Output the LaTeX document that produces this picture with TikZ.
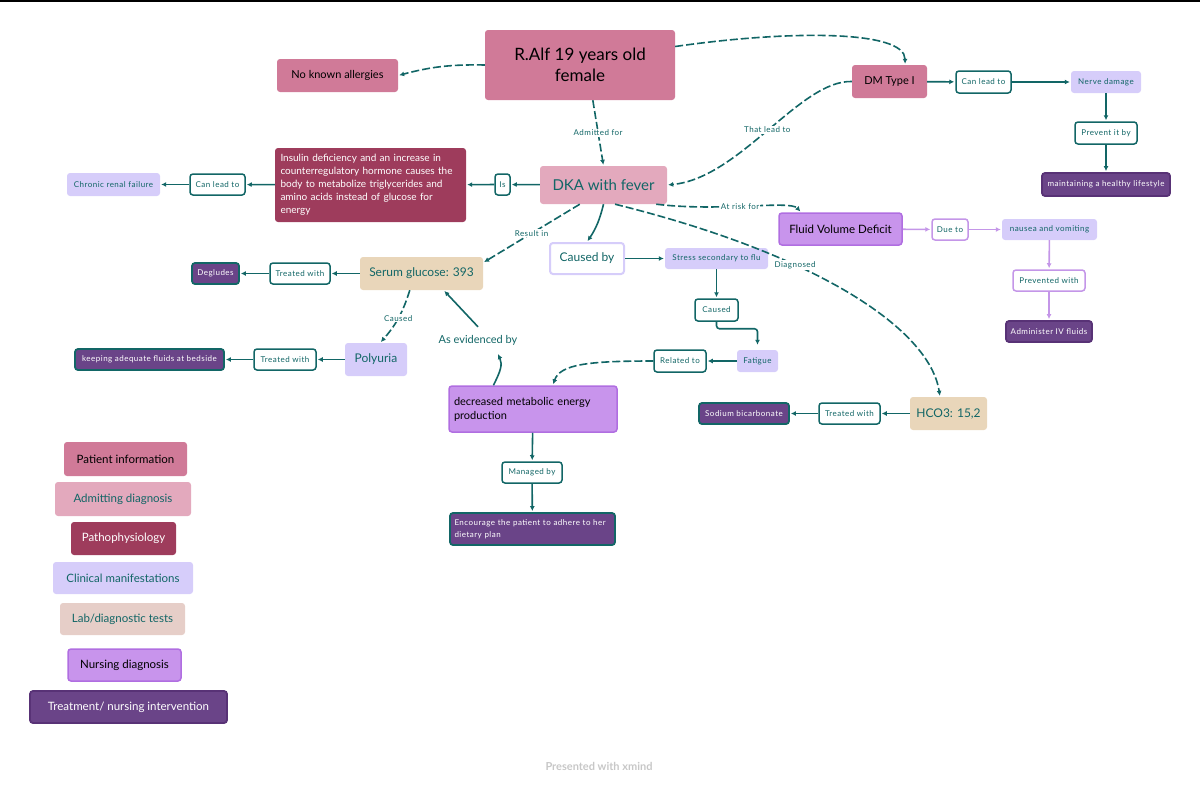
\documentclass[tikz,border=0pt]{standalone}
\usepackage{fontspec}
\setmainfont{Lato}
\newfontfamily\tinyf[LetterSpace=6]{Lato}
\usetikzlibrary{arrows.meta}

\definecolor{cteal}{RGB}{18,102,102}
\definecolor{cpat}{RGB}{208,122,152}
\definecolor{cadm}{RGB}{227,169,189}
\definecolor{cpatho}{RGB}{158,60,92}
\definecolor{cclin}{RGB}{214,205,250}
\definecolor{clab}{RGB}{233,214,186}
\definecolor{clegl}{RGB}{230,206,200}
\definecolor{cnur}{RGB}{200,148,236}
\definecolor{cnurd}{RGB}{176,110,225}
\definecolor{ctreat}{RGB}{106,68,136}
\definecolor{ctreatd}{RGB}{88,50,118}
\definecolor{clav}{RGB}{196,150,232}

\newcommand{\fsz}[2]{\fontsize{#1}{#2}\selectfont}
\newcommand{\smf}{\tinyf\fsz{8}{10}}

\begin{document}
\begin{tikzpicture}[x=1pt,y=-1pt,
    box/.style={rounded corners=3pt, inner sep=0pt, align=center},
    pat/.style={box, fill=cpat, text=black},
    adm/.style={box, fill=cadm, text=cteal},
    patho/.style={box, fill=cpatho, text=white},
    clin/.style={box, fill=cclin, text=cteal},
    lab/.style={box, fill=clab, text=cteal},
    nurs/.style={box, fill=cnur, draw=cnurd, line width=1.5pt, text=black},
    treat/.style={box, fill=ctreat, draw=cteal, line width=1.8pt, text=white, font=\smf},
    rel/.style={box, fill=white, draw=cteal, line width=1.5pt, text=cteal, font=\smf},
    relp/.style={rel, draw=clav},
    lbl/.style={fill=white, inner sep=1pt, text=cteal, font=\smf},
    conn/.style={draw=cteal, line width=1.6pt, -{Latex[length=5pt,width=5pt]}, shorten >=1pt},
    dconn/.style={conn, dash pattern=on 8pt off 3pt},
    pconn/.style={conn, draw=clav}]

\useasboundingbox (0,0) rectangle (1200,795);
\draw[line width=1.5pt] (0,0.75) -- (1200,0.75);

% patient and diagnosis
\node[pat, minimum width=190, minimum height=70, font=\fsz{17}{21}] (ralf) at (580,65) {R.Alf 19 years old\\female};
\node[pat, minimum width=121, minimum height=33, font=\fsz{11}{13}] (allergy) at (337.5,75.5) {No known allergies};
\node[pat, minimum width=75, minimum height=33, font=\fsz{11}{13}] (dm) at (889.5,81.5) {DM Type I};
\node[adm, minimum width=127, minimum height=38, font=\fsz{15}{18}] (dka) at (603.5,185) {DKA with fever};

% DM branch
\node[rel, minimum width=55, minimum height=22] (canlead1) at (983.5,82) {Can lead to};
\node[clin, minimum width=70, minimum height=22, font=\smf] (nerve) at (1106,82) {Nerve damage};
\node[rel, minimum width=62, minimum height=22] (prevby) at (1106,133) {Prevent it by};
\node[treat, draw=ctreatd, minimum width=128, minimum height=23] (lifestyle) at (1106,184.5) {maintaining a healthy lifestyle};

% pathophysiology
\node[rel, minimum width=15, minimum height=21] (is) at (502.5,184.5) {Is};
\node[patho, minimum width=191, minimum height=74, text width=180, align=left, font=\fsz{10}{13}] (insulin) at (370.5,185)
  {Insulin deficiency and an increase in\\counterregulatory hormone causes the\\body to metabolize triglycerides and\\amino acids instead of glucose for\\energy};
\node[rel, minimum width=55, minimum height=21] (canlead2) at (217.5,184.5) {Can lead to};
\node[clin, minimum width=93, minimum height=23, font=\smf] (renal) at (113.5,184.5) {Chronic renal failure};

% fluid volume deficit
\node[nurs, minimum width=123, minimum height=32, font=\fsz{11.5}{14}] (fvd) at (840.5,229) {Fluid Volume Deficit};
\node[relp, minimum width=36, minimum height=21] (dueto) at (950,229.5) {Due to};
\node[clin, minimum width=95, minimum height=21, font=\smf] (nausea) at (1049.5,229.5) {nausea and vomiting};
\node[relp, minimum width=72, minimum height=21] (prevwith) at (1049,280.5) {Prevented with};
\node[treat, draw=ctreatd, minimum width=86, minimum height=21] (ivfluids) at (1049,331.5) {Administer IV fluids};

% serum glucose
\node[lab, minimum width=123, minimum height=33, font=\fsz{12}{14}] (serum) at (421.5,273.5) {Serum glucose: 393};
\node[rel, minimum width=60, minimum height=21] (treat1) at (300,273.5) {Treated with};
\node[treat, minimum width=47, minimum height=21] (degludes) at (215.5,273.5) {Degludes};
\node[clin, minimum width=62, minimum height=33, font=\fsz{12}{14}] (poly) at (376,359.5) {Polyuria};
\node[rel, minimum width=62, minimum height=21] (treat2) at (285,359.5) {Treated with};
\node[treat, minimum width=149, minimum height=21] (keeping) at (149.5,359.5) {keeping adequate fluids at bedside};
\node[text=cteal, inner xsep=2pt, inner ysep=8pt, font=\fsz{11}{13}] (evid) at (478,340) {As evidenced by};

% caused by
\node[box, fill=white, draw=cclin, line width=2pt, text=cteal, minimum width=74, minimum height=31, font=\fsz{12}{14}] (causedby) at (587,258.5) {Caused by};
\node[clin, minimum width=103, minimum height=21, font=\smf] (stress) at (716.5,258.5) {Stress secondary to flu};
\node[rel, minimum width=43, minimum height=22] (caused2) at (716.5,310) {Caused};
\node[clin, minimum width=41, minimum height=22, font=\smf] (fatigue) at (757.5,361) {Fatigue};
\node[rel, minimum width=52, minimum height=22] (related) at (680,361) {Related to};
\node[nurs, minimum width=168, minimum height=46, text width=158, align=left, font=\fsz{11}{14}] (dec) at (533,409) {decreased metabolic energy\\production};
\node[rel, minimum width=60, minimum height=21] (managed) at (532,472.5) {Managed by};
\node[treat, minimum width=165, minimum height=32, text width=156, align=left, font=\smf\fsz{8}{12}] (encourage) at (532.5,529) {Encourage the patient to adhere to her\\dietary plan};

% HCO3
\node[lab, minimum width=77, minimum height=33, font=\fsz{12}{14}] (hco) at (948.5,413.5) {HCO3: 15,2};
\node[rel, minimum width=61, minimum height=21] (treat3) at (849.5,413.5) {Treated with};
\node[treat, minimum width=90, minimum height=21] (sodium) at (744,413.5) {Sodium bicarbonate};

% legend
\node[pat, minimum width=123, minimum height=34, font=\fsz{11.5}{13}] (lpat) at (125.5,459) {Patient information};
\node[adm, minimum width=136, minimum height=34, font=\fsz{11.5}{13}] (ladm) at (123,499) {Admitting diagnosis};
\node[patho, minimum width=105, minimum height=33, font=\fsz{11.5}{13}] (lpatho) at (123.5,538.5) {Pathophysiology};
\node[clin, minimum width=140, minimum height=32, font=\fsz{11.5}{13}] (lclin) at (123,578) {Clinical manifestations};
\node[box, fill=clegl, text=cteal, minimum width=125, minimum height=32, font=\fsz{11.5}{13}] (llab) at (122.5,619) {Lab/diagnostic tests};
\node[nurs, minimum width=113, minimum height=32, font=\fsz{11.5}{13}] (lnur) at (124.5,665) {Nursing diagnosis};
\node[treat, draw=ctreatd, minimum width=197, minimum height=32, font=\fsz{11.5}{13}] (ltreat) at (128.5,707) {Treatment/ nursing intervention};

\node[text=black!22, font=\bfseries\fsz{11}{13}] (footer) at (599,766) {Presented with xmind};

% connectors
\draw[dconn] (ralf.west) to[bend right=8] (allergy.east);
\draw[dconn] (ralf.11) .. controls (790,30) and (905,30) .. (dm.47);
\draw[dconn] (ralf.-70) -- node[lbl] {Admitted for} (dka.north);
\draw[dconn] (dm.west) .. controls (800,80) and (740,178) .. node[lbl, pos=0.5] {That lead to} (dka.east);
\draw[dconn] (dka.-20) .. controls (720,212) and (790,200) .. node[lbl, pos=0.45] {At risk for} (fvd.157);
\draw[dconn] (dka.-59) .. controls (820,255) and (930,330) .. node[lbl, pos=0.35] {Diagnosed} (hco.117);
\draw[dconn] (dka.-141) -- node[lbl] {Result in} (serum.10);
\draw[conn] (dka.south) to[bend left=10] (causedby.north);

\draw[conn] (dm) -- (canlead1);
\draw[conn] (canlead1) -- (nerve);
\draw[conn] (nerve) -- (prevby);
\draw[conn] (prevby) -- (lifestyle);

\draw[conn] (dka) -- (is);
\draw[conn] (is) -- (insulin);
\draw[conn] (insulin) -- (canlead2);
\draw[conn] (canlead2) -- (renal);

\draw[pconn] (fvd) -- (dueto);
\draw[pconn] (dueto) -- (nausea);
\draw[pconn] (nausea) -- (prevwith);
\draw[pconn] (prevwith) -- (ivfluids);

\draw[conn] (serum) -- (treat1);
\draw[conn] (treat1) -- (degludes);
\draw[dconn] (serum.-125) to[bend left=12] node[lbl] {Caused} (poly.76);
\draw[conn] (poly) -- (treat2);
\draw[conn] (treat2) -- (keeping);
\draw[conn] (evid.north) -- (serum.-37);

\draw[conn] (causedby) -- (stress);
\draw[conn] (stress) -- (caused2);
\draw[conn, rounded corners=3pt, shorten >=5pt] (caused2.south) -- ++(0,7) -| (fatigue.north);
\draw[conn] (fatigue) -- (related);
\draw[dconn] (related.west) .. controls (590,361) and (560,364) .. (dec.50);
\draw[conn] (dec.149) .. controls (500,372) and (503,365) .. (evid.-34);
\draw[conn] (dec) -- (managed);
\draw[conn] (managed) -- (encourage);

\draw[conn] (hco) -- (treat3);
\draw[conn] (treat3) -- (sodium);

\end{tikzpicture}
\end{document}
